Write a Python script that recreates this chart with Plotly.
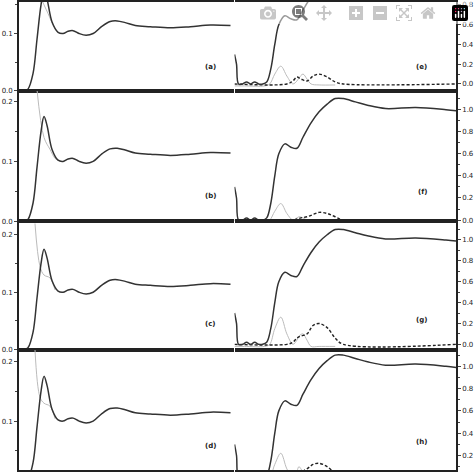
import plotly.graph_objects as go
from plotly.subplots import make_subplots

# left column: pair distribution-like curves, r in arbitrary units
r_solid = [0, 0.3, 0.45, 0.7, 0.9, 1.1, 1.25, 1.4, 1.65, 1.95, 2.2, 2.45, 2.7, 3.0,
           3.35, 3.7, 4.15, 4.55, 4.9, 5.3, 5.8, 6.55, 7.55, 8.55, 9.55, 10.55]
g_solid = [0, 0, 0.003, 0.03, 0.09, 0.15, 0.175, 0.16, 0.12, 0.102, 0.1, 0.104,
           0.105, 0.1, 0.097, 0.1, 0.113, 0.121, 0.122, 0.119, 0.114, 0.112,
           0.11, 0.112, 0.115, 0.114]
r_grey = [[1.0, 1.25, 1.45, 1.7, 1.9],
          [0.9, 1.25, 1.55, 1.8, 2.0],
          [0.8, 1.05, 1.25, 1.55, 1.8],
          [0.8, 1.05, 1.25, 1.55, 1.8]]
g_grey = [[0.17, 0.15, 0.135, 0.115, 0.104],
          [0.22, 0.14, 0.12, 0.105, 0.101],
          [0.22, 0.145, 0.13, 0.125, 0.104],
          [0.22, 0.14, 0.13, 0.125, 0.104]]
left_labels = ["(a)", "(b)", "(c)", "(d)"]

# right column: populations vs time
t_solid = [0, 0.1, 0.2, 0.4, 0.6, 0.8, 1.0, 1.2, 1.4, 1.6, 1.8, 2.0, 2.2, 2.5, 2.8,
           3.1, 3.4, 3.8, 4.2, 4.6, 5.0, 5.4, 6.0, 6.6, 7.5, 9.0, 10.5, 11.0]
p_solid = [0.3, 0.2, 0.0, 0.0, 0.02, 0.0, 0.02, 0.0, 0.0, 0.02, 0.15, 0.4, 0.6,
           0.69, 0.66, 0.65, 0.75, 0.88, 0.98, 1.05, 1.1, 1.1, 1.07, 1.04, 1.01,
           1.02, 1.0, 0.99]
t_grey = [0, 0.5, 1.5, 1.75, 2.0, 2.3, 2.6, 2.9, 3.1, 3.2, 3.4, 3.6, 3.8, 4.2, 5.0]
p_grey = [[-0.02, -0.02, -0.02, 0.0, 0.1, 0.18, 0.08, 0.0, 0.03, 0.06, 0.1, 0.05, 0.0, -0.01, -0.01],
          [-0.02, -0.02, -0.02, 0.0, 0.08, 0.15, 0.06, 0.0, 0.02, 0.03, 0.02, 0.0, -0.01, -0.01, -0.01],
          [-0.02, -0.02, -0.02, 0.0, 0.15, 0.26, 0.1, 0.0, 0.04, 0.08, 0.1, 0.04, -0.02, -0.02, -0.02],
          [-0.02, -0.02, -0.02, 0.0, 0.12, 0.22, 0.08, 0.0, 0.06, 0.1, 0.05, 0.0, -0.01, -0.01, -0.01]]
t_dash = [0, 2.6, 2.9, 3.1, 3.3, 3.6, 3.9, 4.2, 4.6, 5.0, 5.4, 11.0]
p_dash = [[0.0, 0.0, 0.03, 0.07, 0.05, 0.03, 0.08, 0.1, 0.07, 0.02, 0.0, 0.0],
          [0.0, 0.0, 0.0, 0.01, 0.02, 0.03, 0.05, 0.07, 0.06, 0.03, 0.0, 0.0],
          [0.0, 0.0, 0.02, 0.06, 0.08, 0.1, 0.18, 0.2, 0.16, 0.06, 0.0, 0.0],
          [0.0, 0.0, 0.0, 0.02, 0.05, 0.08, 0.12, 0.13, 0.1, 0.04, 0.0, 0.0]]
right_labels = ["(e)", "(f)", "(g)", "(h)"]

left_ranges = [[0, 0.155], [0, 0.218], [0, 0.224], [0.018, 0.22]]
right_ranges = [[-0.07, 0.83], [-0.01, 1.17], [-0.05, 1.18], [0.07, 1.15]]
row_dom = [[1 - 90 / 474, 1], [1 - 222 / 474, 1 - 90 / 474],
           [1 - 352 / 474, 1 - 222 / 474], [0, 1 - 352 / 474]]

fig = make_subplots(rows=4, cols=2, vertical_spacing=0, horizontal_spacing=0)
axfont = dict(family="DejaVu Sans", size=7, color="#222")
for i in range(4):
    fig.add_trace(go.Scatter(x=r_grey[i], y=g_grey[i], mode="lines", line=dict(color="#bbb", width=1, shape="spline")), row=i + 1, col=1)
    fig.add_trace(go.Scatter(x=r_solid, y=g_solid, mode="lines", line=dict(color="#333", width=1.5, shape="spline")), row=i + 1, col=1)
    fig.add_trace(go.Scatter(x=t_grey, y=p_grey[i], mode="lines", line=dict(color="#bbb", width=1, shape="spline")), row=i + 1, col=2)
    fig.add_trace(go.Scatter(x=t_dash, y=p_dash[i], mode="lines", line=dict(color="#222", width=1.4, dash="3px,2px", shape="spline")), row=i + 1, col=2)
    fig.add_trace(go.Scatter(x=t_solid, y=p_solid, mode="lines", line=dict(color="#333", width=1.5, shape="spline")), row=i + 1, col=2)

    fig.update_xaxes(row=i + 1, col=1, domain=[19 / 474, 234 / 474], range=[0, 10.7],
                     showticklabels=False, showline=True, mirror=True, linecolor="#222", linewidth=1.5, showgrid=False, zeroline=False)
    fig.update_xaxes(row=i + 1, col=2, domain=[235 / 474, 457 / 474], range=[0, 11],
                     showticklabels=False, showline=True, mirror=True, linecolor="#222", linewidth=1.5, showgrid=False, zeroline=False)
    fig.update_yaxes(row=i + 1, col=1, domain=row_dom[i], range=left_ranges[i], tickvals=[0, 0.1, 0.2],
                     ticktext=["0.0", "0.1", "0.2"], ticks="outside", ticklen=3, tickfont=axfont,
                     minor=dict(ticks="outside", ticklen=2, dtick=0.05), showgrid=False, zeroline=False,
                     showline=True, linecolor="#222", linewidth=1.5)
    fig.update_yaxes(row=i + 1, col=2, domain=row_dom[i], range=right_ranges[i], side="right",
                     tickvals=[0, 0.2, 0.4, 0.6, 0.8, 1.0], ticktext=["0.0", "0.2", "0.4", "0.6", "0.8", "1.0"],
                     ticks="outside", ticklen=3, tickfont=axfont,
                     minor=dict(ticks="outside", ticklen=2, dtick=0.1), showgrid=False, zeroline=False,
                     showline=True, linecolor="#222", linewidth=1.5)

for i in range(4):
    xl = "x" if i == 0 else "x%d" % (2 * i + 1)
    yl = "y" if i == 0 else "y%d" % (2 * i + 1)
    xr = "x%d" % (2 * i + 2)
    yr = "y%d" % (2 * i + 2)
    fig.add_annotation(x=0.93, y=0.15 if i else 0.2, xref=xl + " domain", yref=yl + " domain",
                       text="<b>" + left_labels[i] + "</b>", showarrow=False, font=axfont)
    fig.add_annotation(x=0.88, y=0.18 if i else 0.2, xref=xr + " domain", yref=yr + " domain",
                       text="<b>" + right_labels[i] + "</b>", showarrow=False, font=axfont)

fig.update_layout(width=474, height=474, margin=dict(l=0, r=0, t=0, b=0),
                  showlegend=False, plot_bgcolor="white", paper_bgcolor="white")
fig.write_html("out.html", post_script="document.body.style.margin='0';")
